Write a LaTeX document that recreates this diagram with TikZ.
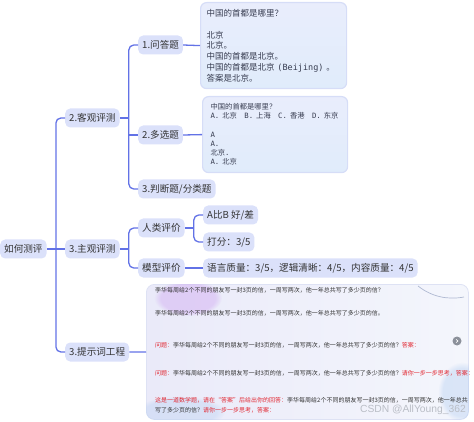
\documentclass[tikz,border=0pt]{standalone}
\usepackage{fontspec}
\setmainfont{Noto Sans CJK SC}
\newfontfamily\monofont{DejaVu Sans Mono}
\newfontfamily\wmfont{Liberation Sans}
\usetikzlibrary{fadings,calc}
\definecolor{conncol}{RGB}{98,114,230}
\definecolor{pillcol}{RGB}{219,225,250}
\definecolor{txtcol}{RGB}{51,51,51}
\definecolor{boxtxt}{RGB}{55,60,80}
\definecolor{boxtop}{RGB}{233,237,252}
\definecolor{boxbot}{RGB}{224,236,251}
\definecolor{boxline}{RGB}{214,221,247}
\definecolor{qred}{RGB}{226,40,50}
\definecolor{pleft}{RGB}{234,234,249}
\definecolor{pright}{RGB}{244,246,252}
\definecolor{pline}{RGB}{222,226,244}
\definecolor{wmcol}{RGB}{186,190,198}
\definecolor{iconcol}{RGB}{140,145,155}
\definecolor{swoosh}{RGB}{175,185,210}
\definecolor{glowv}{RGB}{200,150,240}
\definecolor{glowb}{RGB}{170,200,240}
\begin{document}
\begin{tikzpicture}[x=1pt,y=-1pt,
  pillnode/.style={fill=pillcol, rounded corners=5pt, text=txtcol, font=\fontsize{9.6}{11}\selectfont, inner xsep=4pt, inner ysep=0pt, minimum height=19pt, anchor=west},
  connl/.style={draw=conncol, line width=1.3pt, rounded corners=5pt},
  qbox/.style={top color=boxtop, bottom color=boxbot, draw=boxline, line width=1.2pt, rounded corners=6pt, anchor=north west, align=left, text=boxtxt},
  ptext/.style={anchor=west, inner sep=0pt, text=txtcol, font=\fontsize{6}{7.5}\selectfont}
]
\useasboundingbox (0,0) rectangle (474,422);

% mind-map pills
\node[pillnode] (root) at (0,249) {如何测评};
\node[pillnode] (c2) at (65,118) {2.客观评测};
\node[pillnode] (c3) at (65,249) {3.主观评测};
\node[pillnode] (c4) at (65,352) {3.提示词工程};
\node[pillnode] (q1) at (138,45) {1.问答题};
\node[pillnode] (q2) at (138,135) {2.多选题};
\node[pillnode] (q3) at (138,189) {3.判断题/分类题};
\node[pillnode] (hu) at (138,228) {人类评价};
\node[pillnode] (mo) at (138,268) {模型评价};
\node[pillnode] (ab) at (203,215) {A比B 好/差};
\node[pillnode] (sc) at (203,242) {打分：3/5};
\node[pillnode] (lq) at (203,268) {语言质量：3/5，逻辑清晰：4/5，内容质量：4/5};

% question boxes
\node[qbox, inner xsep=6pt, minimum width=146pt, minimum height=86pt, text width=134pt,
      font=\fontsize{8.5}{10.8}\selectfont] (b1) at (200,2)
 {中国的首都是哪里？\\[10.8pt]
  北京\\
  北京。\\
  中国的首都是北京。\\
  中国的首都是北京{\monofont\ (Beijing)\ }。\\
  答案是北京。};
\node[qbox, inner xsep=8pt, minimum width=145pt, minimum height=76pt, text width=129pt,
      font=\fontsize{7.3}{9.2}\selectfont] (b2) at (202,96)
 {中国的首都是哪里？\\
  {\monofont A.\hspace{3pt}}北京\hspace{5pt} {\monofont B.\hspace{3pt}}上海\hspace{5pt} {\monofont C.\hspace{3pt}}香港\hspace{5pt} {\monofont D.\hspace{3pt}}东京\\[9.2pt]
  {\monofont A}\\
  {\monofont A.}\\
  北京{\monofont .}\\
  {\monofont A.\hspace{3pt}}北京};

% prompt engineering panel
\node[anchor=north west, left color=pleft, right color=pright, draw=pline, line width=0.8pt,
      rounded corners=8pt, minimum width=322pt, minimum height=135pt, inner sep=0pt] (pr) at (146,284) {};
\begin{scope}
  \clip[rounded corners=8pt] (pr.north west) rectangle (pr.south east);
  \fill[glowv, opacity=0.35, path fading=circle with fuzzy edge 20 percent]
     (188,298) ellipse [x radius=34, y radius=18];
  \fill[glowb, opacity=0.35, path fading=circle with fuzzy edge 20 percent]
     (462,392) ellipse [x radius=24, y radius=30];
  \fill[glowb, opacity=0.3, path fading=circle with fuzzy edge 20 percent]
     (180,412) ellipse [x radius=45, y radius=16];
  \draw[swoosh, line width=0.7pt] (418,286) .. controls (432,297) and (448,300) .. (464,297);
\end{scope}
\fill[iconcol] (457,341) circle [radius=4.5];
\draw[white, line width=0.6pt] (456,339.3) -- (458,341) -- (456,342.7);

\node[ptext] (p1) at (155,290) {李华每周给2个不同的朋友写一封3页的信，一周写两次，他一年总共写了多少页的信？};
\node[ptext] (p2) at (155,313) {李华每周给2个不同的朋友写一封3页的信，一周写两次，他一年总共写了多少页的信。};
\node[ptext] (p3) at (155,345) {\textcolor{qred}{问题：}李华每周给2个不同的朋友写一封3页的信，一周写两次，他一年总共写了多少页的信？\textcolor{qred}{答案：}};
\node[ptext] (p4) at (155,373) {\textcolor{qred}{问题：}李华每周给2个不同的朋友写一封3页的信，一周写两次，他一年总共写了多少页的信？\textcolor{qred}{请你一步一步思考，答案：}};
\node[ptext] (p5) at (155,400) {\textcolor{qred}{这是一道数学题，请在“答案”后给出你的回答：}李华每周给2个不同的朋友写一封3页的信，一周写两次，他一年总共};
\node[ptext] (p6) at (155,410) {写了多少页的信？\textcolor{qred}{请你一步一步思考，答案：}};
\node[anchor=east, inner sep=0pt, text=wmcol, font=\wmfont\fontsize{10.3}{12}\selectfont] (wm) at (466,410) {CSDN @AllYoung\_362};

% connectors
\coordinate (j1) at ($(root.east)!0.5!(c3.west)$);
\draw[connl] (c2.west) -| (j1) |- (c4.west);
\draw[connl] (root.east) -- (c3.west);

\coordinate (j2) at ($(c2.east)+(9,0)$);
\draw[connl] (q1.west) -| (j2) |- (q3.west);
\draw[connl] (c2.east) -- (j2);
\draw[connl] (j2 |- q2.west) -- (q2.west);

\coordinate (j3) at ($(c3.east)+(9,0)$);
\draw[connl] (hu.west) -| (j3) |- (mo.west);
\draw[connl] (c3.east) -- (j3);

\coordinate (j4) at ($(hu.east)+(9,0)$);
\draw[connl] (ab.west) -| (j4) |- (sc.west);
\draw[connl] (hu.east) -- (j4);
\draw[connl] (mo.east) -- (lq.west);

\draw[connl] (q1.east) -- (b1.west);
\draw[connl] (q2.east) -- (b2.west);
\draw[connl] (c4.east) -- (pr.west);
\end{tikzpicture}
\end{document}
